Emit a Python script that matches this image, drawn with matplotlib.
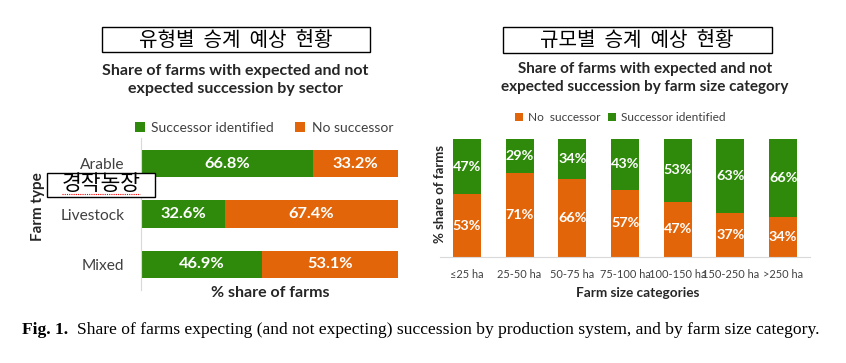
import numpy as np
import matplotlib
matplotlib.use('Agg')
import matplotlib.pyplot as plt
from matplotlib.patches import Rectangle

plt.rcParams['font.family'] = ['Lato', 'DejaVu Sans']

# Left panel: share by farm type
farm_types = ['Arable', 'Livestock', 'Mixed']
successor_type = [66.8, 32.6, 46.9]
no_successor_type = [33.2, 67.4, 53.1]

# Right panel: share by farm size
size_cats = ['≤25 ha', '25-50 ha', '50-75 ha', '75-100 ha', '100-150 ha', '150-250 ha', '>250 ha']
no_successor_size = [53, 71, 66, 57, 47, 37, 34]
successor_size = [47, 29, 34, 43, 53, 63, 66]

green = '#2f8a0b'
orange = '#e3650a'
txt = '#404040'
dark = '#262626'
kfont = ['Noto Sans CJK KR', 'DejaVu Sans']

W, H = 846, 363
fig = plt.figure(figsize=(W/100, H/100), dpi=100)

def fx(x):
  return x / W

def fy(y):
  return 1 - y / H

def box(x0, y0, x1, y1, fill=False):
  fig.patches.append(Rectangle((fx(x0), fy(y1)), fx(x1) - fx(x0), fy(y0) - fy(y1),
                               transform=fig.transFigure, fill=fill,
                               facecolor='white', edgecolor='black', linewidth=1.0, zorder=5))

# ---- left: horizontal stacked bars
ax1 = fig.add_axes([fx(141), fy(290), fx(398) - fx(141), fy(138) - fy(290)])
yp = np.arange(len(farm_types))
ax1.barh(yp, successor_type, height=0.535, color=green, label='Successor identified')
ax1.barh(yp, no_successor_type, left=successor_type, height=0.535, color=orange, label='No successor')
for i in range(len(farm_types)):
  ax1.text(successor_type[i] / 2, yp[i], f'{successor_type[i]:.1f}%', color='white',
           fontsize=11.8, fontweight='bold', ha='center', va='center')
  ax1.text(successor_type[i] + no_successor_type[i] / 2, yp[i], f'{no_successor_type[i]:.1f}%',
           color='white', fontsize=11.8, fontweight='bold', ha='center', va='center')
ax1.set_xlim(0, 100)
ax1.set_ylim(2.505, -0.505)
ax1.set_yticks(yp)
ax1.set_yticklabels(farm_types, fontsize=11.2, color=txt)
ax1.tick_params(axis='y', length=0, pad=12)
ax1.set_xticks([])
for s in ['top', 'right', 'bottom']:
  ax1.spines[s].set_visible(False)
ax1.spines['left'].set_color('#d9d9d9')
ax1.legend(loc='center', bbox_to_anchor=(fx(264), fy(128)), bbox_transform=fig.transFigure,
           ncol=2, frameon=False, fontsize=10, handlelength=0.7, handleheight=0.7,
           handletextpad=0.5, columnspacing=1.5, labelcolor=txt)

fig.text(fx(270), fy(293), '% share of farms', fontsize=11.5, fontweight='bold', color=dark,
         ha='center', va='center')
fig.text(fx(38), fy(207), 'Farm type', fontsize=11, fontweight='bold', color=dark,
         ha='center', va='center', rotation=90)
fig.text(fx(235), fy(80), 'Share of farms with expected and not\nexpected succession by sector',
         fontsize=11.5, fontweight='bold', color=dark, ha='center', va='center', linespacing=1.42)

box(102, 27, 370, 52)
fig.text(fx(236), fy(40), '유형별  승계  예상  현황', family=kfont, fontsize=14.5, ha='center', va='center')

box(47, 173, 155, 197, fill=True)
fig.text(fx(101), fy(184), '경작농장', family=kfont, fontsize=15.5, ha='center', va='center', zorder=6)
fig.lines.append(plt.Line2D([fx(62), fx(140)], [fy(194), fy(194)], transform=fig.transFigure,
                            color='red', linewidth=0.8, linestyle=(0, (1, 1)), zorder=7))

# ---- right: vertical stacked bars
ax2 = fig.add_axes([fx(440), fy(257), fx(810) - fx(440), fy(139) - fy(257)])
xp = np.arange(len(size_cats))
ax2.bar(xp, no_successor_size, width=0.53, color=orange, label='No  successor')
ax2.bar(xp, successor_size, bottom=no_successor_size, width=0.53, color=green, label='Successor identified')
for i in range(len(size_cats)):
  ax2.text(xp[i], no_successor_size[i] / 2, f'{no_successor_size[i]}%', color='white',
           fontsize=10.4, fontweight='bold', ha='center', va='center')
  ax2.text(xp[i], no_successor_size[i] + successor_size[i] / 2, f'{successor_size[i]}%', color='white',
           fontsize=10.4, fontweight='bold', ha='center', va='center')
ax2.set_ylim(0, 100)
ax2.set_xlim(-0.51, len(size_cats) - 0.49)
ax2.set_xticks(xp)
ax2.set_xticklabels(size_cats, fontsize=7.9, color=txt)
ax2.tick_params(axis='x', length=0, pad=9)
ax2.set_yticks([])
for s in ['top', 'right', 'left']:
  ax2.spines[s].set_visible(False)
ax2.spines['bottom'].set_color('#d9d9d9')
ax2.legend(loc='center', bbox_to_anchor=(fx(620), fy(118)), bbox_transform=fig.transFigure,
           ncol=2, frameon=False, fontsize=8.6, handlelength=0.7, handleheight=0.7,
           handletextpad=0.4, columnspacing=0.6, labelcolor=txt)

fig.text(fx(638), fy(293), 'Farm size categories', fontsize=9.8, fontweight='bold', color=dark,
         ha='center', va='center')
fig.text(fx(440), fy(194), '% share of farms', fontsize=9.5, fontweight='bold', color=dark,
         ha='center', va='center', rotation=90)
fig.text(fx(645), fy(78), 'Share of farms with expected and not\nexpected succession by farm size category',
         fontsize=11, fontweight='bold', color=dark, ha='center', va='center', linespacing=1.45)

box(503, 27, 772, 53)
fig.text(fx(637), fy(40), '규모별  승계  예상  현황', family=kfont, fontsize=14.5, ha='center', va='center')

# ---- caption
fig.text(fx(22), fy(330), 'Fig. 1.', fontsize=12.6, family='Liberation Serif', fontweight='bold',
         va='center', color='black')
fig.text(fx(77), fy(330), 'Share of farms expecting (and not expecting) succession by production system, '
         'and by farm size category.', fontsize=12.6, family='Liberation Serif', va='center')

fig.savefig('out.png', dpi=100)
